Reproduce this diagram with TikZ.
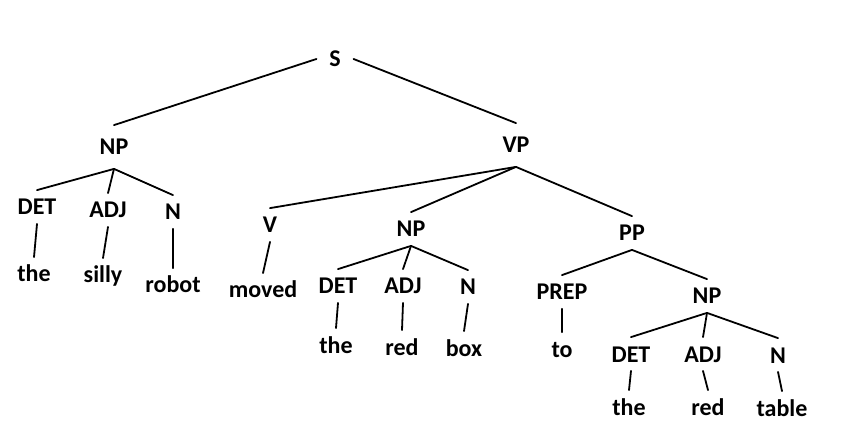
\documentclass[tikz,border=0pt]{standalone}
\usepackage{fontspec}
\setmainfont{Carlito}
\begin{document}
\begin{tikzpicture}[x=1pt,y=-1pt,line width=1.8pt,line cap=round,
  lbl/.style={anchor=base,font=\fontsize{24}{29}\bfseries\selectfont,
    text height=16pt,text depth=0pt,inner ysep=8pt,inner xsep=8pt}]
\useasboundingbox[fill=white] (0,0) rectangle (846,446);

\node[lbl,inner xsep=12pt] (S) at (335,67) {S};

\node[lbl,inner ysep=13pt] (np1) at (114,155) {NP};
\node[lbl,inner ysep=13pt] (vp) at (516,153) {VP};

% subject
\node[lbl] (det1) at (37,215) {DET};
\node[lbl] (adj1) at (108,218) {ADJ};
\node[lbl] (n1) at (173,220) {N};
\node[lbl] (the1) at (34,282) {the};
\node[lbl] (silly) at (103,283) {silly};
\node[lbl] (robot) at (173,293) {robot};

% verb phrase
\node[lbl] (v) at (270,233) {V};
\node[lbl] (moved) at (263,298) {moved};
\node[lbl] (np2) at (411,237) {NP};
\node[lbl] (det2) at (338,294) {DET};
\node[lbl] (adj2) at (403,294) {ADJ};
\node[lbl] (n2) at (468,295) {N};
\node[lbl] (the2) at (336,353) {the};
\node[lbl] (red2) at (402,355) {red};
\node[lbl] (box) at (464,356) {box};

\node[lbl] (pp) at (632,241) {PP};
\node[lbl] (prep) at (562,300) {PREP};
\node[lbl] (toleaf) at (562,357) {to};
\node[lbl] (np3) at (707,304) {NP};
\node[lbl] (det3) at (631,362) {DET};
\node[lbl] (adj3) at (703,362) {ADJ};
\node[lbl] (n3) at (778,363) {N};
\node[lbl] (the3) at (629,415) {the};
\node[lbl] (red3) at (708,415) {red};
\node[lbl] (table) at (782,416) {table};

\draw (S.west) -- (np1.north);
\draw (S.east) -- (vp.north);
\foreach \a/\b in {np1/det1, np1/adj1, np1/n1, det1/the1, adj1/silly, n1/robot,
    vp/v, vp/np2, vp/pp, v/moved, np2/det2, np2/adj2, np2/n2,
    det2/the2, adj2/red2, n2/box, pp/prep, pp/np3, prep/toleaf,
    np3/det3, np3/adj3, np3/n3, det3/the3, adj3/red3, n3/table}
  \draw (\a.south) -- (\b.north);
\end{tikzpicture}
\end{document}
